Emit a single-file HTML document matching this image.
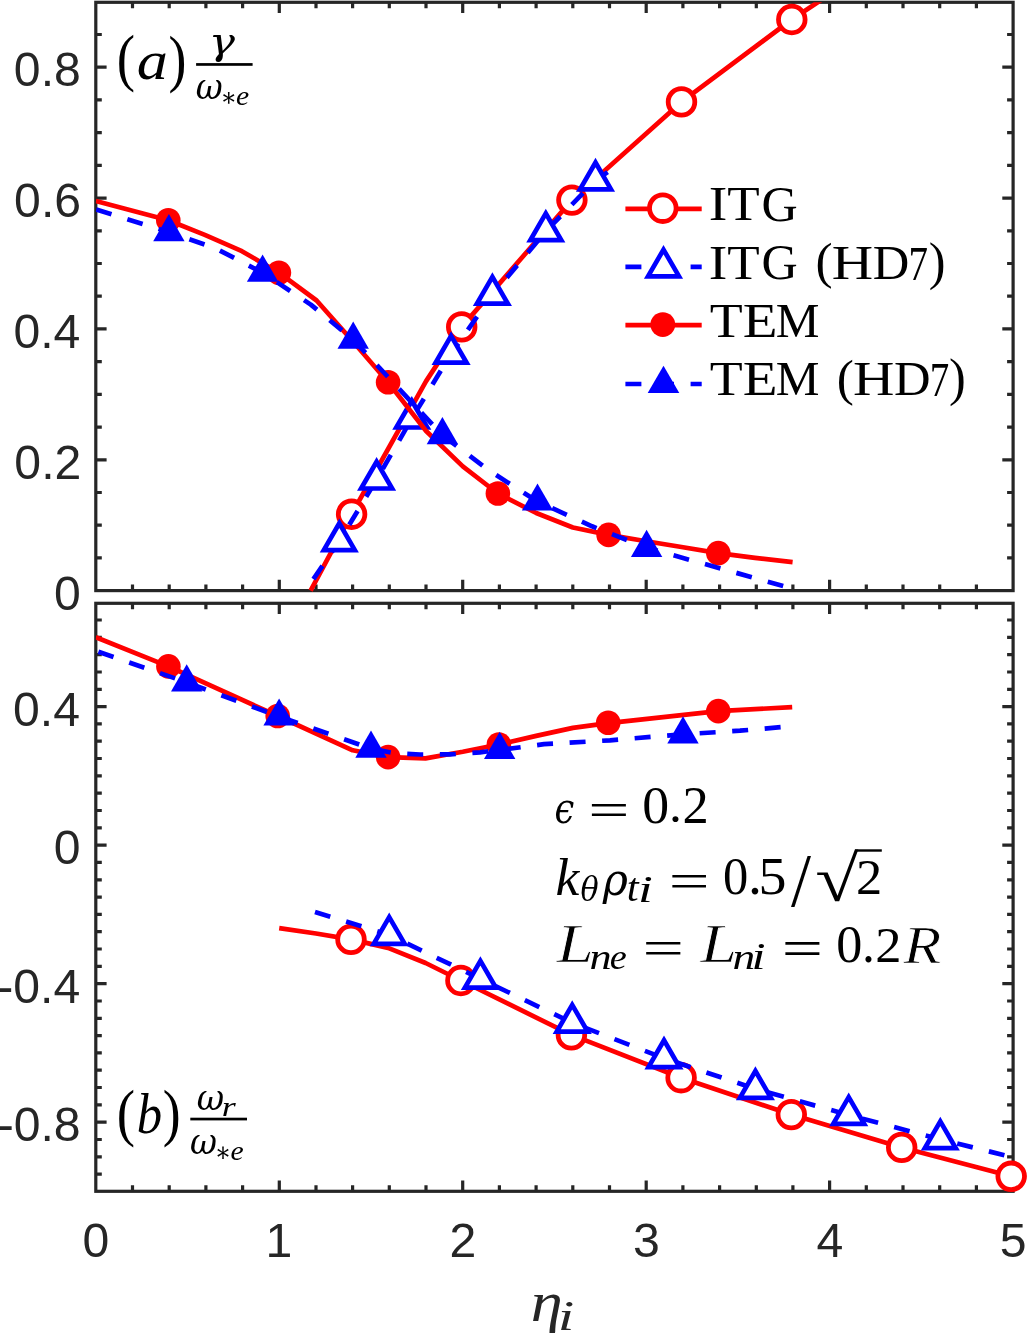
<!DOCTYPE html>
<html><head><meta charset="utf-8"><title>Growth rate and frequency vs eta_i</title><style>html,body{margin:0;padding:0;background:#fff;}svg{display:block;}</style></head><body>
<svg width="1028" height="1333" viewBox="0 0 1028 1333">
<defs>
<clipPath id="ct"><rect x="95.8" y="2.3" width="917.3000000000001" height="589.9000000000001"/></clipPath>
<clipPath id="cb"><rect x="95.8" y="603.3" width="917.3000000000001" height="588.0"/></clipPath>
</defs>
<rect width="1028" height="1333" fill="#fff"/>
<rect x="95.8" y="2.3" width="917.3" height="588.3" fill="none" stroke="#262626" stroke-width="3.2"/>
<path d="M132.5 590.6v-6.0M132.5 2.3v6.0M169.2 590.6v-6.0M169.2 2.3v6.0M205.9 590.6v-6.0M205.9 2.3v6.0M242.6 590.6v-6.0M242.6 2.3v6.0M279.3 590.6v-10.8M279.3 2.3v10.8M316.0 590.6v-6.0M316.0 2.3v6.0M352.6 590.6v-6.0M352.6 2.3v6.0M389.3 590.6v-6.0M389.3 2.3v6.0M426.0 590.6v-6.0M426.0 2.3v6.0M462.7 590.6v-10.8M462.7 2.3v10.8M499.4 590.6v-6.0M499.4 2.3v6.0M536.1 590.6v-6.0M536.1 2.3v6.0M572.8 590.6v-6.0M572.8 2.3v6.0M609.5 590.6v-6.0M609.5 2.3v6.0M646.2 590.6v-10.8M646.2 2.3v10.8M682.9 590.6v-6.0M682.9 2.3v6.0M719.6 590.6v-6.0M719.6 2.3v6.0M756.3 590.6v-6.0M756.3 2.3v6.0M792.9 590.6v-6.0M792.9 2.3v6.0M829.6 590.6v-10.8M829.6 2.3v10.8M866.3 590.6v-6.0M866.3 2.3v6.0M903.0 590.6v-6.0M903.0 2.3v6.0M939.7 590.6v-6.0M939.7 2.3v6.0M976.4 590.6v-6.0M976.4 2.3v6.0M95.8 459.8h10.8M1013.1 459.8h-10.8M95.8 328.9h10.8M1013.1 328.9h-10.8M95.8 198.1h10.8M1013.1 198.1h-10.8M95.8 67.2h10.8M1013.1 67.2h-10.8M95.8 557.9h6.0M1013.1 557.9h-6.0M95.8 525.2h6.0M1013.1 525.2h-6.0M95.8 492.5h6.0M1013.1 492.5h-6.0M95.8 427.1h6.0M1013.1 427.1h-6.0M95.8 394.3h6.0M1013.1 394.3h-6.0M95.8 361.6h6.0M1013.1 361.6h-6.0M95.8 296.2h6.0M1013.1 296.2h-6.0M95.8 263.5h6.0M1013.1 263.5h-6.0M95.8 230.8h6.0M1013.1 230.8h-6.0M95.8 165.4h6.0M1013.1 165.4h-6.0M95.8 132.7h6.0M1013.1 132.7h-6.0M95.8 99.9h6.0M1013.1 99.9h-6.0M95.8 34.5h6.0M1013.1 34.5h-6.0" stroke="#262626" stroke-width="3.2" fill="none"/>
<rect x="95.8" y="603.3" width="917.3" height="588.0" fill="none" stroke="#262626" stroke-width="3.2"/>
<path d="M132.5 1191.3v-6.0M132.5 603.3v6.0M169.2 1191.3v-6.0M169.2 603.3v6.0M205.9 1191.3v-6.0M205.9 603.3v6.0M242.6 1191.3v-6.0M242.6 603.3v6.0M279.3 1191.3v-10.8M279.3 603.3v10.8M316.0 1191.3v-6.0M316.0 603.3v6.0M352.6 1191.3v-6.0M352.6 603.3v6.0M389.3 1191.3v-6.0M389.3 603.3v6.0M426.0 1191.3v-6.0M426.0 603.3v6.0M462.7 1191.3v-10.8M462.7 603.3v10.8M499.4 1191.3v-6.0M499.4 603.3v6.0M536.1 1191.3v-6.0M536.1 603.3v6.0M572.8 1191.3v-6.0M572.8 603.3v6.0M609.5 1191.3v-6.0M609.5 603.3v6.0M646.2 1191.3v-10.8M646.2 603.3v10.8M682.9 1191.3v-6.0M682.9 603.3v6.0M719.6 1191.3v-6.0M719.6 603.3v6.0M756.3 1191.3v-6.0M756.3 603.3v6.0M792.9 1191.3v-6.0M792.9 603.3v6.0M829.6 1191.3v-10.8M829.6 603.3v10.8M866.3 1191.3v-6.0M866.3 603.3v6.0M903.0 1191.3v-6.0M903.0 603.3v6.0M939.7 1191.3v-6.0M939.7 603.3v6.0M976.4 1191.3v-6.0M976.4 603.3v6.0M95.8 706.6h10.8M1013.1 706.6h-10.8M95.8 845.1h10.8M1013.1 845.1h-10.8M95.8 983.6h10.8M1013.1 983.6h-10.8M95.8 1122.2h10.8M1013.1 1122.2h-10.8M95.8 1174.1h6.0M1013.1 1174.1h-6.0M95.8 1156.8h6.0M1013.1 1156.8h-6.0M95.8 1139.5h6.0M1013.1 1139.5h-6.0M95.8 1104.8h6.0M1013.1 1104.8h-6.0M95.8 1087.5h6.0M1013.1 1087.5h-6.0M95.8 1070.2h6.0M1013.1 1070.2h-6.0M95.8 1052.9h6.0M1013.1 1052.9h-6.0M95.8 1035.6h6.0M1013.1 1035.6h-6.0M95.8 1018.3h6.0M1013.1 1018.3h-6.0M95.8 1001.0h6.0M1013.1 1001.0h-6.0M95.8 966.3h6.0M1013.1 966.3h-6.0M95.8 949.0h6.0M1013.1 949.0h-6.0M95.8 931.7h6.0M1013.1 931.7h-6.0M95.8 914.4h6.0M1013.1 914.4h-6.0M95.8 897.1h6.0M1013.1 897.1h-6.0M95.8 879.8h6.0M1013.1 879.8h-6.0M95.8 862.4h6.0M1013.1 862.4h-6.0M95.8 827.8h6.0M1013.1 827.8h-6.0M95.8 810.5h6.0M1013.1 810.5h-6.0M95.8 793.2h6.0M1013.1 793.2h-6.0M95.8 775.9h6.0M1013.1 775.9h-6.0M95.8 758.5h6.0M1013.1 758.5h-6.0M95.8 741.2h6.0M1013.1 741.2h-6.0M95.8 723.9h6.0M1013.1 723.9h-6.0M95.8 689.3h6.0M1013.1 689.3h-6.0M95.8 672.0h6.0M1013.1 672.0h-6.0M95.8 654.7h6.0M1013.1 654.7h-6.0M95.8 637.3h6.0M1013.1 637.3h-6.0M95.8 620.0h6.0M1013.1 620.0h-6.0" stroke="#262626" stroke-width="3.2" fill="none"/>
<text transform="matrix(0.2408 0 0 0.2437 13.87 86.25)" font-family="'Liberation Sans', serif" font-size="200" fill="#262626">0.8</text>
<text transform="matrix(0.2408 0 0 0.2437 14.11 217.09)" font-family="'Liberation Sans', serif" font-size="200" fill="#262626">0.6</text>
<text transform="matrix(0.2408 0 0 0.2437 13.39 347.93)" font-family="'Liberation Sans', serif" font-size="200" fill="#262626">0.4</text>
<text transform="matrix(0.2408 0 0 0.2437 14.35 478.77)" font-family="'Liberation Sans', serif" font-size="200" fill="#262626">0.2</text>
<text transform="matrix(0.2408 0 0 0.2437 54.09 609.61)" font-family="'Liberation Sans', serif" font-size="200" fill="#262626">0</text>
<text transform="matrix(0.2408 0 0 0.2437 13.09 725.61)" font-family="'Liberation Sans', serif" font-size="200" fill="#262626">0.4</text>
<text transform="matrix(0.2408 0 0 0.2437 53.79 864.13)" font-family="'Liberation Sans', serif" font-size="200" fill="#262626">0</text>
<text transform="matrix(0.2408 0 0 0.2437 -2.80 1002.65)" font-family="'Liberation Sans', sans-serif" font-size="200" fill="#262626">-0.4</text>
<text transform="matrix(0.2408 0 0 0.2437 -2.32 1141.17)" font-family="'Liberation Sans', sans-serif" font-size="200" fill="#262626">-0.8</text>
<text transform="matrix(0.2408 0 0 0.2437 82.53 1257.11)" font-family="'Liberation Sans', serif" font-size="200" fill="#262626">0</text>
<text transform="matrix(0.2408 0 0 0.2437 265.39 1257.11)" font-family="'Liberation Sans', serif" font-size="200" fill="#262626">1</text>
<text transform="matrix(0.2408 0 0 0.2437 449.45 1257.36)" font-family="'Liberation Sans', serif" font-size="200" fill="#262626">2</text>
<text transform="matrix(0.2408 0 0 0.2437 633.03 1257.11)" font-family="'Liberation Sans', serif" font-size="200" fill="#262626">3</text>
<text transform="matrix(0.2408 0 0 0.2437 816.49 1257.11)" font-family="'Liberation Sans', serif" font-size="200" fill="#262626">4</text>
<text transform="matrix(0.2408 0 0 0.2437 999.83 1256.87)" font-family="'Liberation Sans', serif" font-size="200" fill="#262626">5</text>
<g>
<polyline points="310.6,590.6 351.6,514.2 388.1,449.0 426.1,381.1 461.7,326.9 571.9,200.1 681.5,101.9 791.8,19.5 829.8,-5.7" fill="none" stroke="#ff0000" stroke-width="4.7" stroke-linejoin="round" clip-path="url(#ct)"/>
<circle cx="351.6" cy="514.2" r="13.3" fill="#fff" stroke="#ff0000" stroke-width="4.8"/>
<circle cx="461.7" cy="326.9" r="13.3" fill="#fff" stroke="#ff0000" stroke-width="4.8"/>
<circle cx="571.9" cy="200.1" r="13.3" fill="#fff" stroke="#ff0000" stroke-width="4.8"/>
<circle cx="681.5" cy="101.9" r="13.3" fill="#fff" stroke="#ff0000" stroke-width="4.8"/>
<circle cx="791.8" cy="19.5" r="13.3" fill="#fff" stroke="#ff0000" stroke-width="4.8"/>
<polyline points="313.4,579.1 339.3,541.2 376.6,479.6 411.8,418.6 451.1,353.8 492.4,294.8 545.8,231.3 595.5,180.4 608.5,171.5" fill="none" stroke="#0000ff" stroke-width="4.7" stroke-linejoin="round" stroke-dasharray="16 16.6" clip-path="url(#ct)"/>
<polygon points="339.3,523.3 354.8,550.1 323.8,550.1" fill="#fff" stroke="#0000ff" stroke-width="4.7" stroke-linejoin="miter" stroke-miterlimit="10"/>
<polygon points="376.6,461.7 392.1,488.5 361.1,488.5" fill="#fff" stroke="#0000ff" stroke-width="4.7" stroke-linejoin="miter" stroke-miterlimit="10"/>
<polygon points="411.8,400.7 427.3,427.5 396.3,427.5" fill="#fff" stroke="#0000ff" stroke-width="4.7" stroke-linejoin="miter" stroke-miterlimit="10"/>
<polygon points="451.1,335.9 466.6,362.7 435.6,362.7" fill="#fff" stroke="#0000ff" stroke-width="4.7" stroke-linejoin="miter" stroke-miterlimit="10"/>
<polygon points="492.4,276.9 507.9,303.7 476.9,303.7" fill="#fff" stroke="#0000ff" stroke-width="4.7" stroke-linejoin="miter" stroke-miterlimit="10"/>
<polygon points="545.8,213.4 561.3,240.2 530.3,240.2" fill="#fff" stroke="#0000ff" stroke-width="4.7" stroke-linejoin="miter" stroke-miterlimit="10"/>
<polygon points="595.5,162.5 611.0,189.3 580.0,189.3" fill="#fff" stroke="#0000ff" stroke-width="4.7" stroke-linejoin="miter" stroke-miterlimit="10"/>
<polyline points="95.8,201.0 168.3,220.2 204.8,234.9 241.9,251.2 278.9,272.7 316.6,300.5 352.5,341.0 388.1,382.3 426.1,431.0 462.8,466.4 497.9,493.5 536.2,513.0 572.9,527.5 608.6,534.9 646.3,541.2 683.0,547.2 718.3,553.1 755.0,557.8 792.6,562.1" fill="none" stroke="#ff0000" stroke-width="4.7" stroke-linejoin="round" clip-path="url(#ct)"/>
<circle cx="168.3" cy="220.2" r="12.3" fill="#ff0000"/>
<circle cx="278.9" cy="272.7" r="12.3" fill="#ff0000"/>
<circle cx="388.1" cy="382.3" r="12.3" fill="#ff0000"/>
<circle cx="497.9" cy="493.5" r="12.3" fill="#ff0000"/>
<circle cx="608.6" cy="534.9" r="12.3" fill="#ff0000"/>
<circle cx="718.3" cy="553.1" r="12.3" fill="#ff0000"/>
<polyline points="96.2,209.6 168.9,232.1 215.1,248.1 262.6,272.7 310.8,304.6 353.2,339.7 442.4,435.2 489.0,470.5 537.5,501.5 592.0,526.3 646.6,547.8 792.3,588.5" fill="none" stroke="#0000ff" stroke-width="4.7" stroke-linejoin="round" stroke-dasharray="16 16.6" clip-path="url(#ct)"/>
<polygon points="168.9,214.0 184.6,241.2 153.2,241.2" fill="#0000ff"/>
<polygon points="262.6,254.6 278.3,281.8 246.9,281.8" fill="#0000ff"/>
<polygon points="353.2,321.6 368.9,348.8 337.5,348.8" fill="#0000ff"/>
<polygon points="442.4,417.1 458.1,444.3 426.7,444.3" fill="#0000ff"/>
<polygon points="537.5,483.4 553.2,510.6 521.8,510.6" fill="#0000ff"/>
<polygon points="646.6,529.7 662.3,556.9 630.9,556.9" fill="#0000ff"/>
<polyline points="95.8,637.2 168.4,666.4 277.7,716.0 352.7,750.3 388.1,757.1 425.5,758.4 462.8,751.8 498.9,744.5 536.2,735.9 572.9,727.9 608.2,723.1 718.3,711.1 792.2,707.1" fill="none" stroke="#ff0000" stroke-width="4.7" stroke-linejoin="round" clip-path="url(#cb)"/>
<circle cx="168.4" cy="666.4" r="12.3" fill="#ff0000"/>
<circle cx="277.7" cy="716.0" r="12.3" fill="#ff0000"/>
<circle cx="388.1" cy="757.1" r="12.3" fill="#ff0000"/>
<circle cx="498.9" cy="744.5" r="12.3" fill="#ff0000"/>
<circle cx="608.2" cy="722.8" r="12.3" fill="#ff0000"/>
<circle cx="718.3" cy="711.1" r="12.3" fill="#ff0000"/>
<polyline points="98.4,651.8 186.7,682.4 279.1,716.5 371.0,748.6 395.0,753.3 420.0,754.5 450.0,754.4 480.0,752.3 499.7,749.9 544.0,744.2 610.0,740.3 683.0,734.3 740.0,730.7 792.3,726.2" fill="none" stroke="#0000ff" stroke-width="4.7" stroke-linejoin="round" stroke-dasharray="16 16.6" clip-path="url(#cb)"/>
<polygon points="186.7,664.3 202.4,691.5 171.0,691.5" fill="#0000ff"/>
<polygon points="279.1,698.4 294.8,725.6 263.4,725.6" fill="#0000ff"/>
<polygon points="371.0,730.5 386.7,757.7 355.3,757.7" fill="#0000ff"/>
<polygon points="499.7,731.8 515.4,759.0 484.0,759.0" fill="#0000ff"/>
<polygon points="683.0,716.2 698.7,743.4 667.3,743.4" fill="#0000ff"/>
<polyline points="279.2,928.2 316.0,933.5 351.0,939.4 388.0,947.9 425.6,963.0 460.9,980.5 571.4,1034.9 681.1,1077.7 791.3,1114.6 901.7,1147.4 1011.2,1176.3" fill="none" stroke="#ff0000" stroke-width="4.7" stroke-linejoin="round" clip-path="url(#cb)"/>
<circle cx="351.0" cy="939.4" r="13.3" fill="#fff" stroke="#ff0000" stroke-width="4.8"/>
<circle cx="460.9" cy="980.5" r="13.3" fill="#fff" stroke="#ff0000" stroke-width="4.8"/>
<circle cx="571.4" cy="1034.9" r="13.3" fill="#fff" stroke="#ff0000" stroke-width="4.8"/>
<circle cx="681.1" cy="1077.7" r="13.3" fill="#fff" stroke="#ff0000" stroke-width="4.8"/>
<circle cx="791.3" cy="1114.6" r="13.3" fill="#fff" stroke="#ff0000" stroke-width="4.8"/>
<circle cx="901.7" cy="1147.4" r="13.3" fill="#fff" stroke="#ff0000" stroke-width="4.8"/>
<circle cx="1011.2" cy="1176.3" r="13.3" fill="#fff" stroke="#ff0000" stroke-width="4.8"/>
<polyline points="315.0,911.9 389.2,935.0 480.4,978.8 572.2,1022.8 664.0,1058.2 755.4,1088.9 848.7,1115.0 940.3,1139.3 1010.4,1156.7" fill="none" stroke="#0000ff" stroke-width="4.7" stroke-linejoin="round" stroke-dasharray="16 16.6" clip-path="url(#cb)"/>
<polygon points="389.2,917.1 404.7,943.9 373.7,943.9" fill="#fff" stroke="#0000ff" stroke-width="4.7" stroke-linejoin="miter" stroke-miterlimit="10"/>
<polygon points="480.4,960.9 495.9,987.7 464.9,987.7" fill="#fff" stroke="#0000ff" stroke-width="4.7" stroke-linejoin="miter" stroke-miterlimit="10"/>
<polygon points="572.2,1004.9 587.7,1031.7 556.7,1031.7" fill="#fff" stroke="#0000ff" stroke-width="4.7" stroke-linejoin="miter" stroke-miterlimit="10"/>
<polygon points="664.0,1040.3 679.5,1067.1 648.5,1067.1" fill="#fff" stroke="#0000ff" stroke-width="4.7" stroke-linejoin="miter" stroke-miterlimit="10"/>
<polygon points="755.4,1071.0 770.9,1097.8 739.9,1097.8" fill="#fff" stroke="#0000ff" stroke-width="4.7" stroke-linejoin="miter" stroke-miterlimit="10"/>
<polygon points="848.7,1097.1 864.2,1123.9 833.2,1123.9" fill="#fff" stroke="#0000ff" stroke-width="4.7" stroke-linejoin="miter" stroke-miterlimit="10"/>
<polygon points="940.3,1121.4 955.8,1148.2 924.8,1148.2" fill="#fff" stroke="#0000ff" stroke-width="4.7" stroke-linejoin="miter" stroke-miterlimit="10"/>
</g>
<line x1="625.4" y1="208.8" x2="701.7" y2="208.8" stroke="#ff0000" stroke-width="4.7"/>
<circle cx="662.8" cy="208.2" r="13.3" fill="#fff" stroke="#ff0000" stroke-width="4.8"/>
<line x1="625.4" y1="266.9" x2="701.7" y2="266.9" stroke="#0000ff" stroke-width="4.7" stroke-dasharray="16 16.6"/>
<polygon points="663.5,249.6 679.0,276.4 648.0,276.4" fill="#fff" stroke="#0000ff" stroke-width="4.7" stroke-linejoin="miter" stroke-miterlimit="10"/>
<line x1="625.4" y1="325.2" x2="701.7" y2="325.2" stroke="#ff0000" stroke-width="4.7"/>
<circle cx="662.8" cy="324.6" r="12.4" fill="#ff0000"/>
<line x1="625.4" y1="384.0" x2="701.7" y2="384.0" stroke="#0000ff" stroke-width="4.7" stroke-dasharray="16 16.6"/>
<polygon points="663.5,365.8 679.3,393.1 647.7,393.1" fill="#0000ff"/>
<text transform="matrix(0.2792 0 0 0.2450 708.85 220.40)" font-family="'Liberation Serif', serif" font-size="200" fill="#000">I</text>
<text transform="matrix(0.2652 0 0 0.2450 727.14 220.40)" font-family="'Liberation Serif', serif" font-size="200" fill="#000">T</text>
<text transform="matrix(0.2508 0 0 0.2560 761.39 220.79)" font-family="'Liberation Serif', serif" font-size="200" fill="#000">G</text>
<text transform="matrix(0.2792 0 0 0.2450 708.85 278.60)" font-family="'Liberation Serif', serif" font-size="200" fill="#000">I</text>
<text transform="matrix(0.2652 0 0 0.2450 727.14 278.60)" font-family="'Liberation Serif', serif" font-size="200" fill="#000">T</text>
<text transform="matrix(0.2508 0 0 0.2560 761.39 278.99)" font-family="'Liberation Serif', serif" font-size="200" fill="#000">G</text>
<text transform="matrix(0.2696 0 0 0.2450 709.72 336.80)" font-family="'Liberation Serif', serif" font-size="200" fill="#000">T</text>
<text transform="matrix(0.2849 0 0 0.2450 742.69 336.80)" font-family="'Liberation Serif', serif" font-size="200" fill="#000">E</text>
<text transform="matrix(0.2458 0 0 0.2450 775.73 336.80)" font-family="'Liberation Serif', serif" font-size="200" fill="#000">M</text>
<text transform="matrix(0.2696 0 0 0.2450 709.72 395.00)" font-family="'Liberation Serif', serif" font-size="200" fill="#000">T</text>
<text transform="matrix(0.2849 0 0 0.2450 742.69 395.00)" font-family="'Liberation Serif', serif" font-size="200" fill="#000">E</text>
<text transform="matrix(0.2458 0 0 0.2450 775.73 395.00)" font-family="'Liberation Serif', serif" font-size="200" fill="#000">M</text>
<text transform="matrix(0.2569 0 0 0.2566 815.49 278.37)" font-family="'Liberation Serif', serif" font-size="200" fill="#000">(</text>
<text transform="matrix(0.2865 0 0 0.2450 831.78 278.60)" font-family="'Liberation Serif', serif" font-size="200" fill="#000">H</text>
<text transform="matrix(0.2531 0 0 0.2450 872.68 278.60)" font-family="'Liberation Serif', serif" font-size="200" fill="#000">D</text>
<text transform="matrix(0.1951 0 0 0.2427 908.46 279.60)" font-family="'Liberation Serif', serif" font-size="200" fill="#000">7</text>
<text transform="matrix(0.2519 0 0 0.2594 928.74 278.50)" font-family="'Liberation Serif', serif" font-size="200" fill="#000">)</text>
<text transform="matrix(0.2569 0 0 0.2566 836.69 394.77)" font-family="'Liberation Serif', serif" font-size="200" fill="#000">(</text>
<text transform="matrix(0.2865 0 0 0.2450 852.98 395.00)" font-family="'Liberation Serif', serif" font-size="200" fill="#000">H</text>
<text transform="matrix(0.2531 0 0 0.2450 893.88 395.00)" font-family="'Liberation Serif', serif" font-size="200" fill="#000">D</text>
<text transform="matrix(0.1951 0 0 0.2427 929.66 396.00)" font-family="'Liberation Serif', serif" font-size="200" fill="#000">7</text>
<text transform="matrix(0.2519 0 0 0.2594 949.09 394.90)" font-family="'Liberation Serif', serif" font-size="200" fill="#000">)</text>
<text transform="matrix(0.2745 0 0 0.3143 116.73 79.49)" font-family="'Liberation Serif', serif" font-size="200" fill="#000">(</text>
<text transform="matrix(0.3116 0 0 0.2771 136.63 78.95)" font-family="'Liberation Serif', serif" font-size="200" font-style="italic" fill="#000">a</text>
<text transform="matrix(0.2692 0 0 0.3178 168.38 79.65)" font-family="'Liberation Serif', serif" font-size="200" fill="#000">)</text>
<text transform="matrix(0.2192 0 0 0.1842 208.82 53.96)" font-family="'DejaVu Serif', serif" font-size="200" font-style="italic" fill="#000">γ</text>
<rect x="196.1" y="63.1" width="56.5" height="2.7" fill="#000"/>
<text transform="matrix(0.1655 0 0 0.1790 195.64 99.02)" font-family="'DejaVu Serif', serif" font-size="200" font-style="italic" fill="#000">ω</text>
<text transform="matrix(0.1215 0 0 0.1308 220.45 105.82)" font-family="'DejaVu Serif', serif" font-size="200" fill="#000">∗</text>
<text transform="matrix(0.1487 0 0 0.1417 236.11 105.02)" font-family="'Liberation Serif', serif" font-size="200" font-style="italic" fill="#000">e</text>
<text transform="matrix(0.2745 0 0 0.3165 116.73 1134.19)" font-family="'Liberation Serif', serif" font-size="200" fill="#000">(</text>
<text transform="matrix(0.2535 0 0 0.2844 136.77 1133.23)" font-family="'Liberation Serif', serif" font-size="200" font-style="italic" fill="#000">b</text>
<text transform="matrix(0.2692 0 0 0.3200 162.68 1134.36)" font-family="'Liberation Serif', serif" font-size="200" fill="#000">)</text>
<text transform="matrix(0.1682 0 0 0.1790 196.72 1109.72)" font-family="'DejaVu Serif', serif" font-size="200" font-style="italic" fill="#000">ω</text>
<text transform="matrix(0.1800 0 0 0.1415 221.66 1116.00)" font-family="'Liberation Serif', serif" font-size="200" font-style="italic" fill="#000">r</text>
<rect x="190.3" y="1117.7" width="56.7" height="2.7" fill="#000"/>
<text transform="matrix(0.1655 0 0 0.1790 189.94 1153.62)" font-family="'DejaVu Serif', serif" font-size="200" font-style="italic" fill="#000">ω</text>
<text transform="matrix(0.1215 0 0 0.1352 214.75 1160.50)" font-family="'DejaVu Serif', serif" font-size="200" fill="#000">∗</text>
<text transform="matrix(0.1487 0 0 0.1417 230.41 1159.62)" font-family="'Liberation Serif', serif" font-size="200" font-style="italic" fill="#000">e</text>
<text transform="matrix(0.1768 0 0 0.2100 554.61 822.97)" font-family="'DejaVu Serif', serif" font-size="200" font-style="italic" fill="#000">ϵ</text>
<text transform="matrix(0.3656 0 0 0.2460 588.24 826.29)" font-family="'Liberation Serif', serif" font-size="200" fill="#000">=</text>
<text transform="matrix(0.2690 0 0 0.2622 642.15 823.08)" font-family="'Liberation Serif', serif" font-size="200" fill="#000">0</text>
<text transform="matrix(0.2583 0 0 0.2458 669.04 822.16)" font-family="'Liberation Serif', serif" font-size="200" fill="#000">.</text>
<text transform="matrix(0.2625 0 0 0.2598 682.44 822.90)" font-family="'Liberation Serif', serif" font-size="200" fill="#000">2</text>
<text transform="matrix(0.2674 0 0 0.2655 555.40 895.10)" font-family="'Liberation Serif', serif" font-size="200" font-style="italic" fill="#000">k</text>
<text transform="matrix(0.1509 0 0 0.1679 580.54 901.16)" font-family="'DejaVu Serif', serif" font-size="200" font-style="italic" fill="#000">θ</text>
<text transform="matrix(0.2139 0 0 0.2262 602.83 895.20)" font-family="'DejaVu Serif', serif" font-size="200" font-style="italic" fill="#000">ρ</text>
<text transform="matrix(0.2140 0 0 0.2000 626.77 901.10)" font-family="'Liberation Serif', serif" font-size="200" font-style="italic" fill="#000">t</text>
<text transform="matrix(0.2658 0 0 0.1864 638.08 901.50)" font-family="'Liberation Serif', serif" font-size="200" font-style="italic" fill="#000">i</text>
<text transform="matrix(0.3613 0 0 0.2540 668.69 897.81)" font-family="'Liberation Serif', serif" font-size="200" fill="#000">=</text>
<text transform="matrix(0.2524 0 0 0.2600 722.88 894.28)" font-family="'Liberation Serif', serif" font-size="200" fill="#000">0</text>
<text transform="matrix(0.2792 0 0 0.2833 748.07 893.95)" font-family="'Liberation Serif', serif" font-size="200" fill="#000">.</text>
<text transform="matrix(0.2800 0 0 0.2639 758.44 894.27)" font-family="'Liberation Serif', serif" font-size="200" fill="#000">5</text>
<text transform="matrix(0.3600 0 0 0.3851 791.00 905.93)" font-family="'Liberation Serif', serif" font-size="200" fill="#000">/</text>
<text transform="matrix(0.3933 0 0 0.3245 815.13 900.58)" font-family="'Liberation Serif', serif" font-size="200" fill="#000">√</text>
<rect x="855.0" y="849.3" width="26.8" height="2.4" fill="#000"/>
<text transform="matrix(0.2625 0 0 0.2583 856.04 893.60)" font-family="'Liberation Serif', serif" font-size="200" fill="#000">2</text>
<text transform="matrix(0.3337 0 0 0.2695 556.67 961.90)" font-family="'Liberation Serif', serif" font-size="200" font-style="italic" fill="#000" stroke="#fff" stroke-width="2.65">L</text>
<text transform="matrix(0.2212 0 0 0.1830 589.55 969.40)" font-family="'Liberation Serif', serif" font-size="200" font-style="italic" fill="#000">n</text>
<text transform="matrix(0.1923 0 0 0.1792 609.85 969.04)" font-family="'Liberation Serif', serif" font-size="200" font-style="italic" fill="#000">e</text>
<text transform="matrix(0.3677 0 0 0.2580 642.62 964.98)" font-family="'Liberation Serif', serif" font-size="200" fill="#000">=</text>
<text transform="matrix(0.3288 0 0 0.2695 700.46 961.90)" font-family="'Liberation Serif', serif" font-size="200" font-style="italic" fill="#000" stroke="#fff" stroke-width="2.67">L</text>
<text transform="matrix(0.2271 0 0 0.1830 732.41 969.40)" font-family="'Liberation Serif', serif" font-size="200" font-style="italic" fill="#000">n</text>
<text transform="matrix(0.2526 0 0 0.1871 751.62 969.40)" font-family="'Liberation Serif', serif" font-size="200" font-style="italic" fill="#000">i</text>
<text transform="matrix(0.3656 0 0 0.2640 781.74 965.62)" font-family="'Liberation Serif', serif" font-size="200" fill="#000">=</text>
<text transform="matrix(0.2607 0 0 0.2600 836.21 962.18)" font-family="'Liberation Serif', serif" font-size="200" fill="#000">0</text>
<text transform="matrix(0.2583 0 0 0.2792 862.04 961.86)" font-family="'Liberation Serif', serif" font-size="200" fill="#000">.</text>
<text transform="matrix(0.2625 0 0 0.2523 875.34 961.80)" font-family="'Liberation Serif', serif" font-size="200" fill="#000">2</text>
<text transform="matrix(0.3092 0 0 0.2679 903.41 962.70)" font-family="'Liberation Serif', serif" font-size="200" font-style="italic" fill="#000" stroke="#fff" stroke-width="2.77">R</text>
<text transform="matrix(0.3214 0 0 0.2819 530.75 1321.40)" font-family="'Liberation Serif', serif" font-size="200" font-style="italic" fill="#262626">η</text>
<text transform="matrix(0.2974 0 0 0.2091 557.83 1329.70)" font-family="'Liberation Serif', serif" font-size="200" font-style="italic" fill="#262626">i</text>
</svg>
</body></html>
